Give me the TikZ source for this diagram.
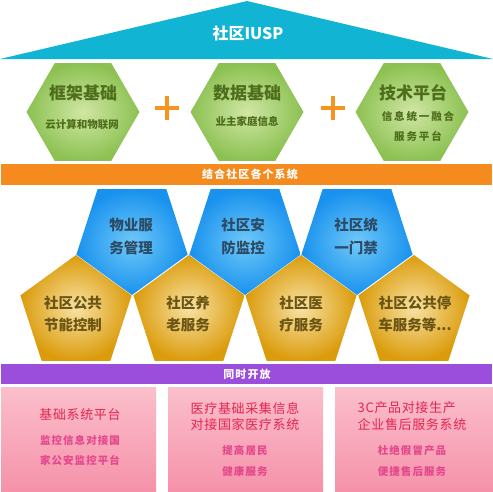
\documentclass[tikz,border=0pt]{standalone}
\usepackage{fontspec}
\setmainfont{Noto Sans CJK SC}
\usepackage{tikz}
\usetikzlibrary{shapes.geometric,positioning}

\definecolor{roofcyan}{HTML}{12B4D4}
\definecolor{greenin}{HTML}{D0E7A4}
\definecolor{greenout}{HTML}{8CC152}
\definecolor{greentext}{HTML}{4E6E1C}
\definecolor{plusorange}{HTML}{F7931E}
\definecolor{barorange}{HTML}{F58A1F}
\definecolor{bluein}{HTML}{70C8F8}
\definecolor{blueout}{HTML}{1892EE}
\definecolor{bluetext}{HTML}{2B4B66}
\definecolor{goldin}{HTML}{F8E2A4}
\definecolor{goldout}{HTML}{DB9C0C}
\definecolor{goldtext}{HTML}{6B5514}
\definecolor{barpurple}{HTML}{9B4DDB}
\definecolor{pinktop}{HTML}{FBBFCB}
\definecolor{pinkbot}{HTML}{F592AA}
\definecolor{pinktitle}{HTML}{E42552}
\definecolor{pinksub}{HTML}{E5468C}

\tikzset{
  hexbox/.style={regular polygon,regular polygon sides=6,minimum size=113pt,
    inner sep=0pt,outer sep=0pt,inner color=greenin,outer color=greenout},
  goldbox/.style={regular polygon,regular polygon sides=5,minimum size=117pt,
    inner sep=0pt,outer sep=0pt,inner color=goldin,outer color=goldout},
  bluebox/.style={goldbox,shape border rotate=180,inner color=bluein,outer color=blueout},
  hextitle/.style={font=\fontsize{17}{20}\selectfont\bfseries,text=greentext},
  hexsub/.style={font=\fontsize{10.5}{20}\selectfont\bfseries,text=greentext,align=center},
  penttext/.style={font=\fontsize{14.5}{22.5}\selectfont\bfseries,align=center},
  bartext/.style={font=\fontsize{11}{13}\selectfont\bfseries,text=white},
  pinkbox/.style={top color=pinktop,bottom color=pinkbot,draw=none},
  pinktitle/.style={font=\fontsize{13}{17}\selectfont\addfontfeature{LetterSpace=5},text=pinktitle,align=center},
  pinksub/.style={font=\fontsize{10.5}{20.5}\selectfont\bfseries\addfontfeature{LetterSpace=10},text=pinksub,align=center},
  plussign/.style={plusorange,line width=3.5pt}
}

\begin{document}
\begin{tikzpicture}[x=1pt,y=-1pt]
\useasboundingbox (0,0) rectangle (493,491);
% roof
\fill[roofcyan] (0,59) -- (247,1) -- (493,59) -- cycle;
\node[font=\fontsize{16}{18}\selectfont\bfseries,text=white] (roof) at (248,33) {社区IUSP};
% three green bases
\node[hexbox] (frame) at (83,112) {};
\node[hexbox] (data) at (247,112) {};
\node[hexbox] (tech) at (412,112) {};
\node[hextitle] (frametitle) at (83,93) {框架基础};
\node[hexsub] (framesub) at (82,125) {云计算和物联网};
\node[hextitle] (datatitle) at (247,93) {数据基础};
\node[hexsub] (datasub) at (247,121) {业主家庭信息};
\node[hextitle] (techtitle) at (413,93) {技术平台};
\node[hexsub,font=\fontsize{10.5}{20}\selectfont\bfseries\addfontfeature{LetterSpace=18}] (techsub) at (418,126) {信息统一融合\\服务平台};
% plus signs
\coordinate (plusa) at (167,108);
\coordinate (plusb) at (333,108);
\draw[plussign] ([xshift=-12pt]plusa) -- ([xshift=12pt]plusa);
\draw[plussign] ([yshift=-12pt]plusa) -- ([yshift=12pt]plusa);
\draw[plussign] ([xshift=-12pt]plusb) -- ([xshift=12pt]plusb);
\draw[plussign] ([yshift=-12pt]plusb) -- ([yshift=12pt]plusb);
% orange bar
\fill[barorange] (1,164) rectangle (492,185);
\node[bartext,font=\fontsize{11}{13}\selectfont\bfseries\addfontfeature{LetterSpace=10}] (joinbar) at (250,174.5) {结合社区各个系统};
% gold pentagons
\node[goldbox] (energy) at (76,313.5) {};
\node[goldbox] (elder) at (189,313.5) {};
\node[goldbox] (medic) at (301,313.5) {};
\node[goldbox] (park) at (414,313.5) {};
% blue pentagons
\node[bluebox] (property) at (132,236.5) {};
\node[bluebox] (security) at (245,236.5) {};
\node[bluebox] (access) at (357,236.5) {};
\node[penttext,text=bluetext] (propertytext) at (131,236.5) {物业服\\务管理};
\node[penttext,text=bluetext] (securitytext) at (243,236.5) {社区安\\防监控};
\node[penttext,text=bluetext] (accesstext) at (356,236.5) {社区统\\一门禁};
\node[penttext,text=goldtext] (energytext) at (73,314) {社区公共\\节能控制};
\node[penttext,text=goldtext] (eldertext) at (188,314) {社区养\\老服务};
\node[penttext,text=goldtext] (medictext) at (301,314) {社区医\\疗服务};
\node[penttext,text=goldtext] (parktext) at (415,314) {社区公共停\\车服务等...};
% purple bar
\fill[barpurple] (1,364) rectangle (492,384);
\node[bartext,font=\fontsize{11}{13}\selectfont\bfseries\addfontfeature{LetterSpace=10}] (openbar) at (247,374) {同时开放};
% pink boxes
\fill[pinkbox] (1,387) rectangle (156,491);
\fill[pinkbox] (168,387) rectangle (323,491);
\fill[pinkbox] (335,387) rectangle (493,491);
\node[pinktitle] (basetitle) at (80,415) {基础系统平台};
\node[pinksub] (basesub) at (80,450.5) {监控信息对接国\\家公安监控平台};
\node[pinktitle] (medtitle) at (245,416.5) {医疗基础采集信息\\对接国家医疗系统};
\node[pinksub] (medsub) at (245,461) {提高居民\\健康服务};
\node[pinktitle,align=left] (prodtitle) at (412,416.5) {3C产品对接生产\\企业售后服务系统};
\node[pinksub] (prodsub) at (412,461) {杜绝假冒产品\\便捷售后服务};
\end{tikzpicture}
\end{document}
